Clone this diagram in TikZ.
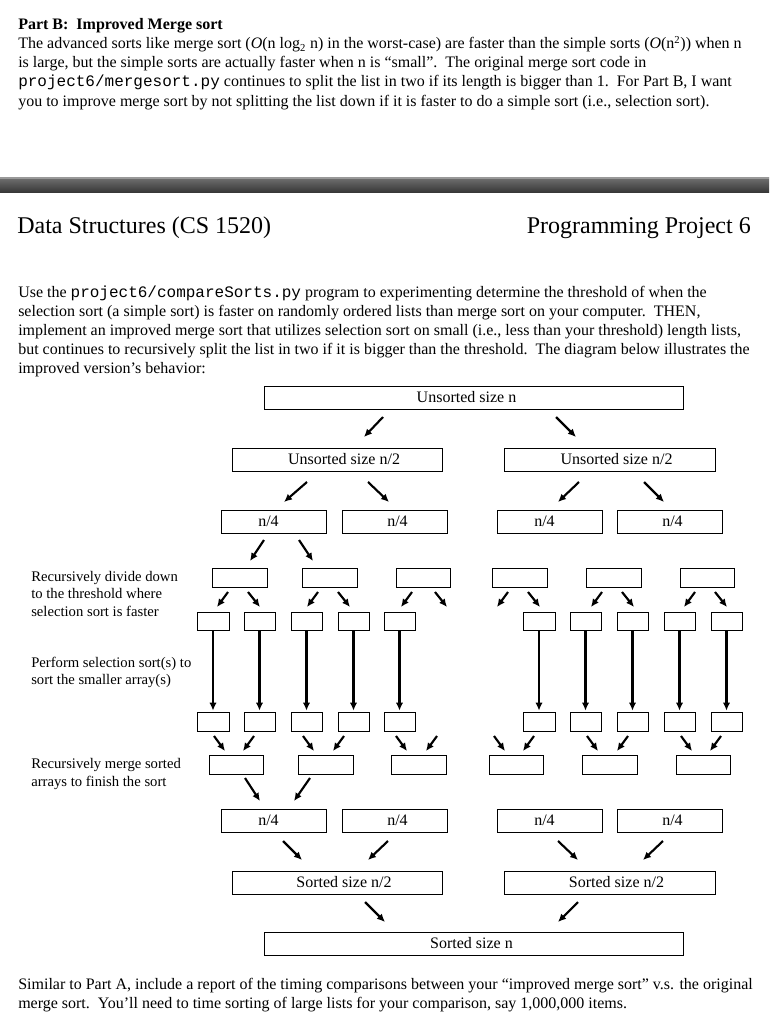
\documentclass[tikz,border=0pt]{standalone}
\usepackage{fontspec}
\setmainfont{Liberation Serif}
\setmonofont{Liberation Mono}
\usetikzlibrary{arrows.meta}
\tikzset{
  bx/.style={draw, line width=0.75pt, inner sep=0pt, outer sep=0pt},
  bxt/.style={inner sep=0pt, anchor=base, font=\fontsize{12}{14}\selectfont},
  txt/.style={inner sep=0pt, anchor=base west, font=\fontsize{12}{14}\selectfont},
  side/.style={inner sep=0pt, anchor=base west, font=\fontsize{11}{13}\selectfont},
  arr/.style={line width=1.6pt, -{Latex[length=6pt,width=5.5pt]}},
}
% name, x1, y1, x2, y2, text, text x offset (px)
\newcommand\mybox[7]{%
  \node[bx, minimum width={(#4-#2)*0.75pt}, minimum height={(#5-#3)*0.75pt}] (#1) at ({(#2+#4)/2},{(#3+#5)/2}) {};
  \node[bxt] (#1t) at ({(#2+#4)/2+#7},{(#3+#5)/2+5}) {#6};}
\newcommand\arw[5]{%
  \coordinate (#1a) at (#2,#3); \coordinate (#1b) at (#4,#5);
  \draw[arr] (#1a) -- (#1b);}
\begin{document}
\begin{tikzpicture}[x=0.75pt, y=-0.75pt]
\useasboundingbox (0,0) rectangle (769,1024);
\fill[white] (0,0) rectangle (769,1024);

% top text
\node[txt] (t1) at (18,30) {\textbf{Part B:\ \ Improved Merge sort}};
\node[txt] (t2) at (18,49) {The advanced sorts like merge sort (\textit{O}(n log\textsubscript{2} n) in the worst-case) are faster than the simple sorts (\textit{O}(n\textsuperscript{2})) when n};
\node[txt] (t3) at (18,68) {is large, but the simple sorts are actually faster when n is “small”.\ \ The original merge sort code in};
\node[txt] (t4) at (18,87) {\texttt{project6/mergesort.py} continues to split the list in two if its length is bigger than 1.\ \ For Part B, I want};
\node[txt] (t5) at (18,106) {you to improve merge sort by not splitting the list down if it is faster to do a simple sort (i.e., selection sort).};

% bar
\shade[top color=black!55, bottom color=black!78] (0,177) rectangle (769,192);
\fill[black!40] (0,177) rectangle (769,178.5);

% header
\node[inner sep=0pt, anchor=base west, font=\fontsize{18}{20}\selectfont] (h1) at (17,233) {Data Structures (CS 1520)};
\node[inner sep=0pt, anchor=base east, font=\fontsize{18}{20}\selectfont] (h2) at (751,233) {Programming Project 6};

\node[txt] (u1) at (18,297) {Use the \texttt{project6/compareSorts.py} program to experimenting determine the threshold of when the};
\node[txt] (u2) at (18,316) {selection sort (a simple sort) is faster on randomly ordered lists than merge sort on your computer.\ \ THEN,};
\node[txt] (u3) at (18,335) {implement an improved merge sort that utilizes selection sort on small (i.e., less than your threshold) length lists,};
\node[txt] (u4) at (18,354) {but continues to recursively split the list in two if it is bigger than the threshold.\ \ The diagram below illustrates the};
\node[txt] (u5) at (18,373) {improved version’s behavior:};

% diagram: top
\mybox{U}{264}{386}{683}{409}{Unsorted size n}{-7}
\arw{a1}{383}{417}{364}{437}
\arw{a2}{556}{417}{576}{437}
\mybox{UL}{232}{448}{442}{471}{Unsorted size n/2}{7}
\mybox{UR}{504}{448}{715}{471}{Unsorted size n/2}{7}
\arw{a3}{307}{482}{284}{502}
\arw{a4}{368}{482}{389}{502}
\arw{a5}{579}{482}{558}{502}
\arw{a6}{644}{482}{664}{502}
\mybox{Q1}{221}{510}{326}{533}{n/4}{-5}
\mybox{Q2}{342}{510}{447}{533}{n/4}{3}
\mybox{Q3}{497}{510}{602}{533}{n/4}{-5}
\mybox{Q4}{617}{510}{722}{533}{n/4}{3}
\arw{a7}{264}{540}{250}{561}
\arw{a8}{299}{540}{313}{561}

% level 3
\mybox{A}{212}{568}{267}{587}{}{0}
\mybox{B}{302}{568}{357}{587}{}{0}
\mybox{C}{396}{568}{450}{587}{}{0}
\mybox{D}{492}{568}{547}{587}{}{0}
\mybox{E}{586}{568}{641}{587}{}{0}
\mybox{F}{680}{568}{734}{587}{}{0}
\arw{bA1}{228}{592}{217}{607}
\arw{bA2}{248}{592}{260}{607}
\arw{bB1}{318}{592}{307}{607}
\arw{bB2}{338}{592}{350}{607}
\arw{bC1}{412}{592}{401}{607}
\arw{bC2}{435}{592}{447}{607}
\arw{bD1}{508}{592}{497}{607}
\arw{bD2}{528}{592}{540}{607}
\arw{bE1}{602}{592}{591}{607}
\arw{bE2}{622}{592}{634}{607}
\arw{bF1}{695}{592}{684}{607}
\arw{bF2}{715}{592}{727}{607}

% level 4 and 5
\foreach \n/\xa/\xb in {1/197/229, 2/244/275, 3/291/322, 4/338/369, 5/384/415, 6/523/555, 7/570/601, 8/617/648, 9/664/695, 10/711/742}{
  \mybox{c\n}{\xa}{612}{\xb}{630}{}{0}
  \mybox{d\n}{\xa}{712}{\xb}{731}{}{0}
  \draw[arr, shorten >=1pt] (c\n.south) -- (d\n.north);
}

% level 6 (merged)
\foreach \n/\xa/\xb in {1/209/263, 2/298/353, 3/391/446, 4/489/543, 5/582/637, 6/676/730}{
  \mybox{m\n}{\xa}{755}{\xb}{774}{}{0}
}
\foreach \n/\xa/\xb in {1/209/263, 2/298/353, 3/391/446, 4/489/543, 5/582/637, 6/676/730}{
  \arw{e\n l}{\xa+5}{736}{\xa+16}{751}
  \arw{e\n r}{\xb-9}{736}{\xb-20}{751}
}
\arw{f1}{245}{778}{260}{801}
\arw{f2}{310}{778}{294}{801}

% level 7
\mybox{P1}{221}{809}{326}{832}{n/4}{-5}
\mybox{P2}{342}{809}{447}{832}{n/4}{3}
\mybox{P3}{497}{809}{602}{832}{n/4}{-5}
\mybox{P4}{617}{809}{722}{832}{n/4}{3}
\arw{g1}{283}{841}{302}{860}
\arw{g2}{388}{841}{368}{860}
\arw{g3}{558}{841}{578}{860}
\arw{g4}{663}{841}{643}{860}

\mybox{S1}{232}{871}{442}{894}{Sorted size n/2}{7}
\mybox{S2}{504}{871}{715}{894}{Sorted size n/2}{7}
\arw{h1a}{365}{902}{385}{922}
\arw{h2a}{578}{902}{558}{922}
\mybox{SN}{264}{932}{683}{955}{Sorted size n}{-2}

% side notes
\node[side] (s1) at (31,581) {Recursively divide down};
\node[side] (s2) at (31,598) {to the threshold where};
\node[side] (s3) at (31,616) {selection sort is faster};
\node[side] (s4) at (31,667) {Perform selection sort(s) to};
\node[side] (s5) at (31,684) {sort the smaller array(s)};
\node[side] (s6) at (31,768) {Recursively merge sorted};
\node[side] (s7) at (31,786) {arrays to finish the sort};

% bottom text
\node[txt] (b1) at (18,989) {Similar to Part A, include a report of the timing comparisons between your “improved merge sort” v.s. the original};
\node[txt] (b2) at (18,1008) {merge sort.\ \ You’ll need to time sorting of large lists for your comparison, say 1,000,000 items.};
\end{tikzpicture}
\end{document}
